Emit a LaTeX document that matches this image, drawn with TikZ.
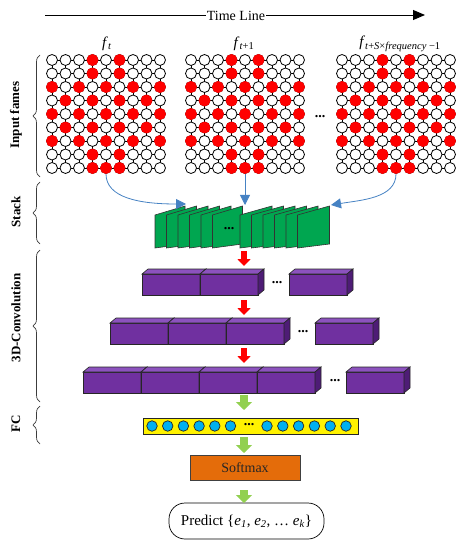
\documentclass[tikz,border=0pt]{standalone}
\usepackage{fontspec}
\setmainfont{Liberation Serif}
\usetikzlibrary{decorations.pathreplacing,arrows.meta}
\definecolor{stackgreen}{RGB}{0,166,80}
\definecolor{cubefrontc}{RGB}{112,48,160}
\definecolor{cubetopc}{RGB}{140,82,190}
\definecolor{cubesidec}{RGB}{78,28,118}
\definecolor{flowblue}{RGB}{70,130,195}
\definecolor{fcgreen}{RGB}{146,208,80}
\definecolor{softorange}{RGB}{228,108,10}
\definecolor{fcblue}{RGB}{0,176,240}
\definecolor{bracegray}{RGB}{60,60,60}
\tikzset{
  gridline/.style={line width=0.9pt, black},
  wcirc/.style={circle, draw=black, fill=white, line width=0.8pt, minimum size=11pt, inner sep=0pt},
  rcirc/.style={circle, draw=red, fill=red, line width=0.8pt, minimum size=11pt, inner sep=0pt},
  sheet/.style={fill=stackgreen, draw=black!80, line width=0.6pt},
  cubeface/.style={draw=black!85, fill=cubefrontc, line width=0.6pt, inner sep=0pt, outer sep=0pt},
  cubetop/.style={draw=black!85, fill=cubetopc, line width=0.6pt},
  cubeside/.style={draw=black!85, fill=cubesidec, line width=0.6pt},
  bluearrow/.style={flowblue, line width=0.8pt, -{Triangle[length=10pt,width=10pt]}},
  redarrow/.style={red, line width=6pt, -{Triangle[length=7pt,width=13pt]}},
  greenarrow/.style={fcgreen, line width=8pt, -{Triangle[length=8pt,width=16pt]}},
  bracest/.style={decorate, decoration={brace, amplitude=7pt}, bracegray, line width=0.7pt},
  sidelabel/.style={rotate=90, font=\bfseries\fontsize{13}{15}\selectfont},
  flabel/.style={font=\fontsize{15}{17}\selectfont},
  dots/.style={font=\bfseries\fontsize{14}{15}\selectfont, inner sep=0pt},
  fccirc/.style={circle, draw=black!85, fill=fcblue, line width=0.7pt, minimum size=10.5pt, inner sep=0pt},
}
\newcommand\mycuboid[4]{%
  \node[cubeface, minimum width=#4pt, minimum height=21pt, anchor=north west] (#1) at (#2,#3) {};
  \filldraw[cubetop] (#1.north west) -- ([xshift=6pt,yshift=5pt]#1.north west) -- ([xshift=6pt,yshift=5pt]#1.north east) -- (#1.north east) -- cycle;
  \filldraw[cubeside] (#1.north east) -- ([xshift=6pt,yshift=5pt]#1.north east) -- ([xshift=6pt,yshift=5pt]#1.south east) -- (#1.south east) -- cycle;
}
\newcommand\mysheet[2]{% x, width
  \filldraw[sheet] (#1,248) -- (#1,215) -- (#1+#2,206) -- (#1+#2,244) -- cycle;
}
\begin{document}
\begin{tikzpicture}[x=1pt,y=-1pt]
\useasboundingbox (0,0) rectangle (474,553);
% time line
\coordinate (tls) at (45,15);
\coordinate (tle) at (425,15);
\draw[line width=0.9pt, -{Triangle[length=12pt,width=10pt]}] (tls) -- (tle);
\node[fill=white, inner sep=1pt, font=\fontsize{14}{16}\selectfont] (tl) at (236,16) {Time Line};
% frame labels
\node[flabel] (f1) at (107,44) {\textit{f}\textsubscript{\textit{t}}};
\node[flabel] (f2) at (244,44) {\textit{f}\textsubscript{\textit{t}+1}};
\node[flabel] (f3) at (400,44) {\textit{f}\textsubscript{\textit{t}+\textit{S}×\textit{frequency} −1}};
% grids
\foreach \gx/\gn in {52/1,191/2,342/3}{
  \foreach \i in {0,...,8}{
    \draw[gridline] (\gx,60+13.5*\i) -- (\gx+108,60+13.5*\i);
    \draw[gridline] (\gx+13.5*\i,60) -- (\gx+13.5*\i,168);
  }
  \foreach \c in {0,...,8}{
    \foreach \r in {0,...,8}{
      \node[wcirc] (g\gn-\c-\r) at (\gx+13.5*\c,60+13.5*\r) {};
    }
  }
  \foreach \c/\r in {3/0,5/0,3/1,5/1,0/2,2/2,4/2,6/2,8/2,1/3,3/3,5/3,7/3,0/4,2/4,4/4,6/4,8/4,1/5,3/5,5/5,7/5,0/6,2/6,4/6,6/6,8/6,3/7,5/7,3/8,4/8,5/8}{
    \node[rcirc] at (\gx+13.5*\c,60+13.5*\r) {};
  }
}
\node[dots] (gdots) at (320,117) {...};
% side labels and braces
\node[sidelabel] (l1) at (16,115) {Input fames};
\node[sidelabel] (l2) at (16,212) {Stack};
\node[sidelabel] (l3) at (16,318) {3D-Convolution};
\node[sidelabel] (l4) at (16,424) {FC};
\draw[bracest] (40,177) -- (40,55);
\draw[bracest] (40,244) -- (40,182);
\draw[bracest] (40,402) -- (40,250);
\draw[bracest] (40,444) -- (40,406);
% stack
\foreach \x in {155,166.5,178,189.5,201,212.5}{\mysheet{\x}{30}}
\node[dots] (sdots) at (229,229) {...};
\foreach \x in {240,251.5,263,274.5,286,297.5}{\mysheet{\x}{32}}
\coordinate (s1in) at (186,204);
\coordinate (s2in) at (245,205);
\coordinate (s3in) at (331,205);
% blue connectors
\draw[bluearrow] (g1-4-8.south) .. controls (106,198) and (140,204) .. (s1in);
\draw[bluearrow] (g2-4-8.south) -- (s2in);
\draw[bluearrow] (g3-4-8.south) .. controls (396,198) and (362,200) .. (s3in);
% conv rows
\mycuboid{c11}{142}{274}{58}
\mycuboid{c12}{200}{274}{58}
\node[dots] (d1) at (277,283) {...};
\mycuboid{c13}{289}{274}{58}
\mycuboid{c21}{110}{323}{58}
\mycuboid{c22}{168}{323}{58}
\mycuboid{c23}{226}{323}{58}
\node[dots] (d2) at (303,332) {...};
\mycuboid{c24}{315}{323}{58}
\mycuboid{c31}{83}{372}{58}
\mycuboid{c32}{141}{372}{58}
\mycuboid{c33}{199}{372}{58}
\mycuboid{c34}{257}{372}{58}
\node[dots] (d3) at (335,381) {...};
\mycuboid{c35}{346}{372}{58}
% red arrows
\coordinate (r1s) at (244,251); \coordinate (r1e) at (244,266);
\coordinate (r2s) at (244,300); \coordinate (r2e) at (244,315);
\coordinate (r3s) at (244,348); \coordinate (r3e) at (244,363);
\draw[redarrow] (r1s) -- (r1e);
\draw[redarrow] (r2s) -- (r2e);
\draw[redarrow] (r3s) -- (r3e);
% FC layer
\node[draw=black!85, fill=yellow, line width=0.7pt, minimum width=215pt, minimum height=16pt, inner sep=0pt] (fc) at (250.5,426) {};
\foreach \x in {152,167.7,183.4,199.1,214.8,230.5,267,282.8,298.6,314.4,330.2,346}{
  \node[fccirc] at (\x,426) {};
}
\node[dots] (fdots) at (249,425) {...};
% softmax and predict
\node[draw=black!75, fill=softorange, line width=0.7pt, minimum width=110pt, minimum height=25pt, font=\fontsize{14}{16}\selectfont, text=black!85] (sm) at (245,467.5) {Softmax};
\node[draw=black, line width=0.7pt, rounded corners=16pt, minimum width=155pt, minimum height=36pt, font=\fontsize{15}{17}\selectfont] (pred) at (246.5,521) {Predict \{\textit{e}\textsubscript{\textit{1}}, \textit{e}\textsubscript{\textit{2}}, … \textit{e}\textsubscript{\textit{k}}\}};
% green arrows
\coordinate (ga1s) at (244,395); \coordinate (ga1e) at (244,410);
\coordinate (ga2s) at (244,437); \coordinate (ga2e) at (244,453);
\coordinate (ga3s) at (244,490); \coordinate (ga3e) at (244,503);
\draw[greenarrow] (ga1s) -- (ga1e);
\draw[greenarrow] (ga2s) -- (ga2e);
\draw[greenarrow] (ga3s) -- (ga3e);
\end{tikzpicture}
\end{document}
